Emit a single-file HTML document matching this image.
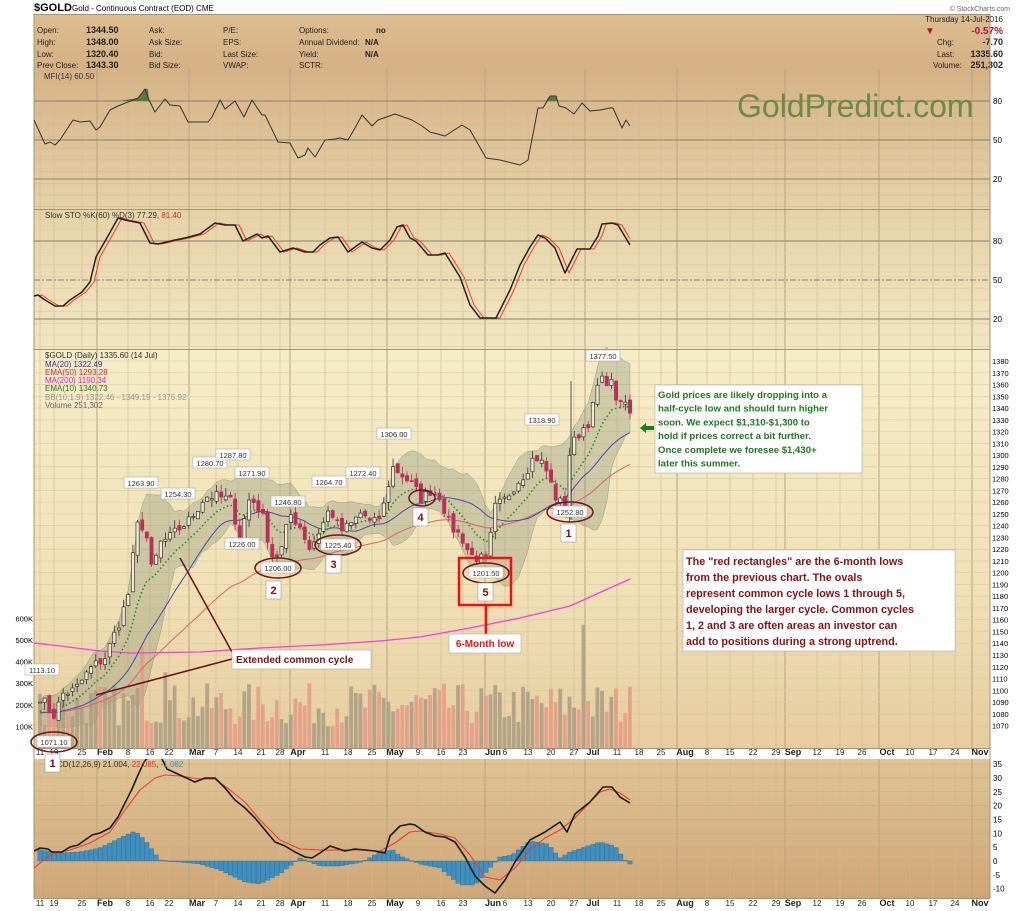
<!DOCTYPE html>
<html><head><meta charset="utf-8"><style>
html,body{margin:0;padding:0;background:#fff;width:1024px;height:911px;overflow:hidden}
svg{display:block;font-family:"Liberation Sans",sans-serif}
</style></head><body>
<svg id="s" width="1024" height="911" viewBox="0 0 1024 911" xmlns="http://www.w3.org/2000/svg">
<defs>
<linearGradient id="gh" x1="0" y1="0" x2="0" y2="1"><stop offset="0" stop-color="#dcbd90"/><stop offset="1" stop-color="#d5b084"/></linearGradient>
<linearGradient id="gm" x1="0" y1="0" x2="0" y2="1"><stop offset="0" stop-color="#d6b285"/><stop offset="1" stop-color="#e6d2a8"/></linearGradient>
<linearGradient id="gs" x1="0" y1="0" x2="0" y2="1"><stop offset="0" stop-color="#e6d2a7"/><stop offset="1" stop-color="#f1e6c3"/></linearGradient>
<linearGradient id="gp" x1="0" y1="0" x2="0" y2="1"><stop offset="0" stop-color="#f5ecc8"/><stop offset="0.6" stop-color="#f0e1b6"/><stop offset="1" stop-color="#e6cc9e"/></linearGradient>
<linearGradient id="gc" x1="0" y1="0" x2="0" y2="1"><stop offset="0" stop-color="#dfc495"/><stop offset="1" stop-color="#cfa677"/></linearGradient>
<clipPath id="cm"><rect x="34" y="759" width="956" height="139"/></clipPath>
</defs>
<text x="34" y="11" font-size="11" font-weight="bold">$GOLD</text>
<text x="72" y="11" font-size="8">Gold - Continuous Contract (EOD)  CME</text>
<text x="1010" y="11" font-size="7" fill="#666" text-anchor="end">© StockCharts.com</text>
<rect x="34" y="14" width="956" height="56" fill="url(#gh)"/>
<g font-size="8" fill="#222">
<text x="37" y="33">Open:</text><text x="37" y="45">High:</text><text x="37" y="57">Low:</text><text x="37" y="68">Prev Close:</text>
<g font-weight="bold" font-size="9"><text x="86" y="33">1344.50</text><text x="86" y="45">1348.00</text><text x="86" y="57">1320.40</text><text x="86" y="68">1343.30</text></g>
<text x="149" y="33">Ask:</text><text x="149" y="45">Ask Size:</text><text x="149" y="57">Bid:</text><text x="149" y="68">Bid Size:</text>
<text x="223" y="33">P/E:</text><text x="223" y="45">EPS:</text><text x="223" y="57">Last Size:</text><text x="223" y="68">VWAP:</text>
<text x="299" y="33">Options:</text><text x="299" y="45">Annual Dividend:</text><text x="299" y="57">Yield:</text><text x="299" y="68">SCTR:</text>
<g font-weight="bold"><text x="376" y="33">no</text><text x="365" y="45">N/A</text><text x="365" y="57">N/A</text></g>
<text x="1003" y="22" text-anchor="end">Thursday  14-Jul-2016</text>
<text x="937" y="45">Chg:</text><text x="937" y="57">Last:</text><text x="933" y="68">Volume:</text>
<g font-weight="bold" text-anchor="end" font-size="9"><text x="1003" y="34" fill="#b0103a" font-size="10">-0.57%</text><text x="1003" y="45">-7.70</text><text x="1003" y="57">1335.60</text><text x="1003" y="68">251,302</text></g>
<text x="925" y="34" fill="#b0103a" font-size="10">▼</text>
</g>
<rect x="34" y="70" width="956" height="139" fill="url(#gm)"/>
<rect x="34" y="210" width="956" height="139" fill="url(#gs)"/>
<rect x="34" y="350" width="956" height="398" fill="url(#gp)"/>
<rect x="34" y="759" width="956" height="139" fill="url(#gc)"/>
<g id="grid"></g>
<g id="data"></g>
<text x="737" y="117" font-size="32" fill="#6b8a44">GoldPredict.com</text>
<g font-size="8" fill="#333">
<text x="44" y="79">MFI(14) 60.50</text>
<text x="45" y="218">Slow STO %K(60) %D(3) 77.29, <tspan fill="#e0302a">81.40</tspan></text>
<text x="45" y="358">$GOLD (Daily) 1335.60 (14 Jul)</text>
<text x="45" y="367" fill="#3a3a9a">MA(20) 1322.49</text>
<text x="45" y="375" fill="#d03040">EMA(50) 1293.28</text>
<text x="45" y="383" fill="#e020d0">MA(200) 1190.34</text>
<text x="45" y="391" fill="#208020">EMA(10) 1340.73</text>
<text x="45" y="400" fill="#999">BB(10,1.9) 1322.46 - 1349.19 - 1375.92</text>
<text x="45" y="408" fill="#666">Volume 251,302</text>
<text x="45" y="767">MACD(12,26,9) 21.004, <tspan fill="#e0302a">22.085</tspan>, <tspan fill="#3a90c0">-1.082</tspan></text>
</g>
<g id="ann"></g>
</svg>
<script>
var NS="http://www.w3.org/2000/svg";
function el(p,t,a,txt){var e=document.createElementNS(NS,t);for(var k in a)e.setAttribute(k,a[k]);if(txt!=null)e.textContent=txt;p.appendChild(e);return e;}
var G=document.getElementById('grid'),D=document.getElementById('data'),A=document.getElementById('ann');
var X0=34,X1=990;
var xl=[[40,'11'],[54,'19'],[82,'25'],[105,'Feb',1],[128,'8'],[150,'16'],[169,'22'],[197,'Mar',1],[216,'7'],[238,'14'],[261,'21'],[280,'28'],[298,'Apr',1],[325,'11'],[348,'18'],[372,'25'],[395,'May',1],[418,'9'],[441,'16'],[463,'23'],[493,'Jun',1],[505,'6'],[528,'13'],[551,'20'],[574,'27'],[593,'Jul',1],[617,'11'],[639,'18'],[661,'25'],[685,'Aug',1],[707,'8'],[730,'15'],[753,'22'],[776,'29'],[793,'Sep',1],[817,'12'],[840,'19'],[862,'26'],[887,'Oct',1],[910,'10'],[933,'17'],[955,'24'],[980,'Nov',1]];
var panels=[[70,209],[210,349],[350,748],[759,898]];
xl.forEach(function(l){var gx=l[2]?l[0]-8:l[0];panels.forEach(function(p){el(G,'line',{x1:gx,x2:gx,y1:p[0],y2:p[1],stroke:l[2]?'#b8a27e':'#cdb993','stroke-width':l[2]?1:0.6});});
 [755,906].forEach(function(y){el(G,'text',{x:l[0],y:y,'font-size':l[2]?9:8,'font-weight':l[2]?'bold':'normal','text-anchor':'middle',fill:'#222'},l[1]);});});
function hl(y,c,w,d){el(G,'line',{x1:X0,x2:X1,y1:y,y2:y,stroke:c,'stroke-width':w||0.6,'stroke-dasharray':d||''});}
for(var y=78;y<209;y+=11.7)hl(y,'#cfb88f');for(var y=218;y<349;y+=11.7)hl(y,'#dccaa0');
[[101,'80'],[140,'50'],[179,'20']].forEach(function(a){hl(a[0],'#8a8070',1);el(G,'text',{x:993,y:a[0]+3,'font-size':8},a[1]);});
[[241,'80'],[280,'50',1],[319,'20']].forEach(function(a){hl(a[0],'#8a8070',1,a[2]?'6,2,2,2':'');el(G,'text',{x:993,y:a[0]+3,'font-size':8},a[1]);});
function py(p){return 361+(1380-p)*1.176;}
for(var p=1380;p>=1070;p-=10){hl(py(p),'#dcc9a0');el(G,'text',{x:992,y:py(p)+3,'font-size':7.5},String(p));}
[[1,'100K'],[2,'200K'],[3,'300K'],[4,'400K'],[5,'500K'],[6,'600K']].forEach(function(a){el(G,'text',{x:33,y:748-a[0]*21.6+3,'font-size':7.5,'text-anchor':'end'},a[1]);});
function my(v){return 861-v*2.77;}
for(var v=35;v>=-10;v-=5){hl(my(v),'#c9ab80');el(G,'text',{x:993,y:my(v)+3,'font-size':8},String(v));}
[[14,70],[209,210],[349,350],[748,759],[898,899]].forEach(function(a){el(G,'rect',{x:X0,y:a[0],width:956,height:1,fill:'#a89070'});});
el(G,'line',{x1:X0,x2:X0,y1:14,y2:898,stroke:'#a89070'});el(G,'line',{x1:X1,x2:X1,y1:14,y2:898,stroke:'#a89070'});
function interp(pts,x){if(x<=pts[0][0])return pts[0][1];for(var i=1;i<pts.length;i++){if(x<=pts[i][0]){var a=pts[i-1],b=pts[i];return a[1]+(b[1]-a[1])*(x-a[0])/(b[0]-a[0]);}}return pts[pts.length-1][1];}
function poly(pts,c,w,d,par){el(par||D,'polyline',{points:pts.map(function(p){return p[0]+','+p[1]}).join(' '),fill:'none',stroke:c,'stroke-width':w||1,'stroke-dasharray':d||'','stroke-linejoin':'round'});}
var seed=7;function rnd(){seed=(seed*16807)%2147483647;return seed/2147483647;}
var anc=[[40,1095],[48,1085],[55,1078],[62,1097],[75,1100],[90,1118],[105,1128],[118,1155],[128,1180],[137,1240],[145,1240],[152,1200],[160,1225],[170,1230],[180,1238],[190,1245],[205,1265],[215,1265],[230,1262],[240,1230],[250,1265],[262,1250],[272,1215],[280,1215],[290,1250],[300,1240],[310,1220],[322,1240],[330,1255],[340,1235],[350,1240],[362,1252],[372,1240],[382,1250],[392,1290],[400,1285],[412,1275],[422,1262],[430,1270],[440,1265],[450,1240],[462,1230],[470,1215],[480,1212],[487,1210],[495,1255],[505,1262],[515,1275],[525,1285],[535,1300],[545,1290],[555,1265],[565,1255],[570,1305],[580,1320],[590,1330],[598,1360],[605,1365],[612,1360],[620,1340],[625,1345],[630,1335]];
var N=128,xs=[],C=[];for(var i=0;i<N;i++){var x=40+i*(590/(N-1));xs.push(x);C.push(interp(anc,x)+(rnd()-0.5)*10);}
C[N-1]=1335.6;
var pre=[];for(var i=0;i<60;i++)pre.push(1080+(rnd()-0.5)*8);
var all=pre.concat(C);
function sma(n,i){var s=0;for(var k=i-n+1;k<=i;k++)s+=all[k];return s/n;}
var e50=1078,e10=1080,EM50=[],EM10=[];for(var i=0;i<all.length;i++){e50+= (all[i]-e50)*2/51;e10+=(all[i]-e10)*2/11;if(i>=60){EM50.push(e50);EM10.push(e10);}}
var up=[],lo=[],ma20=[];
for(var i=0;i<N;i++){var j=i+60,m=sma(10,j),s=0;for(var k=j-9;k<=j;k++)s+=(all[k]-m)*(all[k]-m);s=Math.sqrt(s/10);up.push(m+1.9*s+4);lo.push(m-1.9*s-4);ma20.push(sma(20,j));}
var bb=xs.map(function(x,i){return x+','+py(up[i])}).concat(xs.slice().reverse().map(function(x,k){return x+','+py(lo[N-1-k])}));
el(D,'polygon',{points:bb.join(' '),fill:'#8a9178','fill-opacity':0.35,stroke:'#9a9a88','stroke-width':0.5});
for(var i=0;i<N;i++){var v=100000+rnd()*200000;if(i==22)v=470000;if(i==117)v=570000;if(i==27)v=350000;var dn=i>0&&C[i]<C[i-1];var h=v/100000*21.6;
 el(D,'rect',{x:xs[i]-2,y:748-h,width:3.8,height:h,fill:dn?'#e49a86':'#a99c84','fill-opacity':0.85});}
poly([[34,643],[60,646],[100,651],[130,653],[200,652],[260,648],[320,645],[380,641],[420,637],[470,628],[520,618],[570,606],[630,579]],'#f040e0',1.3);
poly(xs.map(function(x,i){return [x,py(EM50[i])]}),'#e06070',1);
poly(xs.map(function(x,i){return [x,py(ma20[i])]}),'#4a4aa8',1);
poly(xs.map(function(x,i){return [x,py(EM10[i])]}),'#2a8a2a',1.6,'1.5,2.5');
for(var i=0;i<N;i++){var c=C[i],o=i?C[i-1]+(rnd()-0.5)*5:1090,hi=Math.max(o,c)+rnd()*7,lw=Math.min(o,c)-rnd()*7;var x=xs[i];
 el(D,'line',{x1:x,x2:x,y1:py(hi),y2:py(lw),stroke:c<o?'#b52a55':'#333','stroke-width':0.8});
 var t=py(Math.max(o,c)),b=py(Math.min(o,c));if(b-t<1)b=t+1;
 el(D,'rect',{x:x-1.6,y:t,width:3.2,height:b-t,fill:c<o?'#b8305a':'#f2ead0',stroke:c<o?'#b8305a':'#333','stroke-width':0.7});}
el(D,'line',{x1:571,x2:571,y1:381,y2:520,stroke:'#333','stroke-width':0.8});
var mfi=[[34,120],[45,144],[50,142],[55,145],[60,140],[73,120],[80,122],[90,121],[96,130],[100,127],[110,110],[118,106],[138,98],[145,89],[149,100],[155,112],[165,99],[170,105],[180,106],[188,122],[200,122],[208,122],[212,117],[220,100],[225,109],[235,101],[244,117],[252,100],[262,115],[265,115],[278,142],[290,143],[298,158],[305,155],[308,148],[315,157],[325,140],[335,139],[340,138],[348,140],[355,128],[362,115],[372,126],[378,120],[395,114],[412,120],[422,126],[430,132],[445,136],[462,125],[470,130],[486,158],[500,160],[512,163],[520,165],[525,162],[528,160],[538,108],[543,108],[550,96],[556,96],[559,106],[566,108],[574,114],[582,103],[590,111],[600,110],[610,108],[613,108],[622,128],[626,120],[630,126]];
el(D,'polygon',{points:'118,101 138,98 145,89 148,89 149,101',fill:'#5a7a3a'});el(D,'polygon',{points:'546,101 550,96 556,96 558,101',fill:'#5a7a3a'});
poly(mfi,'#333',1);
var sto=[[34,296],[38,295],[45,300],[55,306],[63,306],[70,300],[82,292],[90,282],[96,257],[108,236],[118,218],[125,220],[130,221],[140,223],[150,243],[158,244],[175,240],[185,238],[200,234],[215,223],[225,225],[235,225],[243,241],[257,234],[262,238],[268,236],[280,252],[293,248],[305,252],[313,252],[320,245],[330,238],[338,237],[348,252],[362,242],[365,244],[372,248],[380,250],[390,240],[397,227],[403,225],[410,238],[416,241],[428,255],[438,255],[445,253],[460,277],[470,305],[480,318],[496,318],[510,290],[520,265],[530,247],[538,235],[545,238],[555,248],[565,273],[577,249],[590,249],[598,236],[602,224],[612,223],[618,225],[630,245]];
poly(sto.map(function(p){return [p[0]+4,p[1]]}).filter(function(p){return p[0]<=630}).concat([[630,239]]),'#f03a30',1);
poly(sto,'#222',1.5);
var mb=[[34,851],[40,848],[48,849],[52,852],[62,852],[70,847],[78,845],[92,835],[100,833],[110,828],[118,817],[125,803],[132,789],[138,775],[144,762],[150,755],[160,755],[167,769],[180,775],[195,782],[205,778],[215,778],[225,788],[235,800],[245,808],[255,818],[265,830],[275,842],[285,846],[295,852],[305,857],[312,858],[320,853],[330,846],[345,851],[355,849],[365,850],[375,851],[385,853],[390,836],[400,826],[410,824],[415,825],[425,832],[435,836],[445,837],[455,842],[465,857],[475,876],[485,886],[495,893],[505,880],[515,862],[530,840],[545,832],[560,822],[567,832],[575,814],[590,802],[603,787],[612,787],[620,797],[630,803]];
var mr=[[34,868],[50,855],[70,850],[90,843],[110,832],[125,810],[140,790],[155,778],[165,775],[180,776],[200,779],[215,779],[230,790],[245,802],[260,820],[280,840],[300,849],[320,850],[340,850],[360,850],[380,851],[395,843],[410,832],[420,831],[440,834],[455,838],[470,855],[485,877],[500,880],[515,868],[530,850],[545,838],[560,830],[575,818],[590,802],[600,792],[610,789],[620,793],[630,800]];
var hv=[[34,849],[60,853],[80,852],[100,848],[120,838],[135,831],[145,840],[160,860],[180,862],[200,864],[220,870],[245,882],[260,884],[280,874],[300,858],[320,866],[340,866],[362,862],[380,852],[393,850],[400,856],[420,864],[440,868],[460,885],[475,885],[490,868],[500,857],[512,855],[530,841],[548,844],[560,858],[570,852],[600,842],[615,846],[625,860],[630,864]];
for(var i=0;i<N;i++){var x=xs[i],h=interp(hv,x);el(D,'rect',{x:x-2.2,y:Math.min(h,861),width:4.4,height:Math.max(Math.abs(h-861),0.6),fill:'#3f8fbf',stroke:'#2f6f9a','stroke-width':0.4});}
var MC=el(D,'g',{'clip-path':'url(#cm)'});
poly(mr,'#f03a30',1.1,'',MC);poly(mb,'#1a1a1a',1.6,'',MC);
function lab(x,y,t){el(A,'rect',{x:x-17,y:y-6,width:34,height:11,fill:'#fff',stroke:'#aaa','stroke-width':0.6});el(A,'text',{x:x,y:y+3,'font-size':7.5,'text-anchor':'middle',fill:'#333'},t);}
[[141,483,'1263.90'],[178,494,'1254.30'],[210,463,'1280.70'],[233,455,'1287.80'],[252,473,'1271.90'],[242,544,'1226.00'],[288,502,'1246.80'],[329,482,'1264.70'],[363,473,'1272.40'],[394,434,'1306.00'],[542,420,'1318.90'],[603,356,'1377.50'],[42,670,'1113.10']].forEach(function(a){lab(a[0],a[1],a[2]);});
[[278,568,'1206.00'],[338,545,'1225.40'],[486,573,'1201.50'],[570,512,'1252.80'],[54,742,'1071.10']].forEach(function(a){lab(a[0],a[1],a[2]);el(A,'ellipse',{cx:a[0],cy:a[1],rx:23,ry:10,fill:'none',stroke:'#6a1a1a','stroke-width':1.5});});
el(A,'ellipse',{cx:422,cy:498,rx:13,ry:8,fill:'none',stroke:'#6a1a1a','stroke-width':1.5});
[[273,590,'2'],[333,564,'3'],[420,517,'4'],[485,592,'5'],[568,533,'1'],[52,763,'1']].forEach(function(a){el(A,'rect',{x:a[0]-7,y:a[1]-9,width:15,height:18,fill:'#fff',stroke:'#999','stroke-width':0.6});el(A,'text',{x:a[0]+0.5,y:a[1]+4,'font-size':11,'font-weight':'bold','text-anchor':'middle',fill:'#7a1010'},a[2]);});
el(A,'rect',{x:459,y:558,width:52,height:47,fill:'none',stroke:'#f01010','stroke-width':2.5});
el(A,'line',{x1:486,x2:486,y1:605,y2:634,stroke:'#f01010','stroke-width':2.5});
el(A,'rect',{x:449,y:634,width:72,height:19,fill:'#fff',stroke:'#aaa','stroke-width':0.6});
el(A,'text',{x:485,y:647,'font-size':10,'font-weight':'bold','text-anchor':'middle',fill:'#f01010'},'6-Month low');
el(A,'line',{x1:180,y1:558,x2:232,y2:652,stroke:'#6a1010','stroke-width':1.5});
el(A,'line',{x1:96,y1:695,x2:232,y2:659,stroke:'#6a1010','stroke-width':1.5});
el(A,'rect',{x:232,y:650,width:139,height:19,fill:'#fff',stroke:'#aaa','stroke-width':0.6});
el(A,'text',{x:236,y:663,'font-size':10,'font-weight':'bold',fill:'#7a1010'},'Extended common cycle');
el(A,'rect',{x:655,y:385,width:207,height:88,fill:'#fff',stroke:'#aaa','stroke-width':0.6});
['Gold prices are likely dropping into a','half-cycle low and should turn higher','soon. We expect $1,310-$1,300 to','hold if prices correct a bit further.','Once complete we foresee $1,430+','later this summer.'].forEach(function(t,i){el(A,'text',{x:658,y:398+i*13.7,'font-size':9.6,'font-weight':'bold',fill:'#1e7a1e'},t);});
el(A,'polygon',{points:'640,428 646,423 646,426 654,426 654,430 646,430 646,433',fill:'#1e7a1e'});
el(A,'rect',{x:683,y:550,width:272,height:101,fill:'#fff',stroke:'#aaa','stroke-width':0.6});
['The "red rectangles" are the 6-month lows','from the previous chart. The ovals','represent common cycle lows 1 through 5,','developing the larger cycle. Common cycles','1, 2 and 3 are often areas an investor can','add to positions during a strong uptrend.'].forEach(function(t,i){el(A,'text',{x:686,y:565+i*16,'font-size':10.8,'font-weight':'bold',fill:'#8a1010'},t);});
</script>
</body></html>
